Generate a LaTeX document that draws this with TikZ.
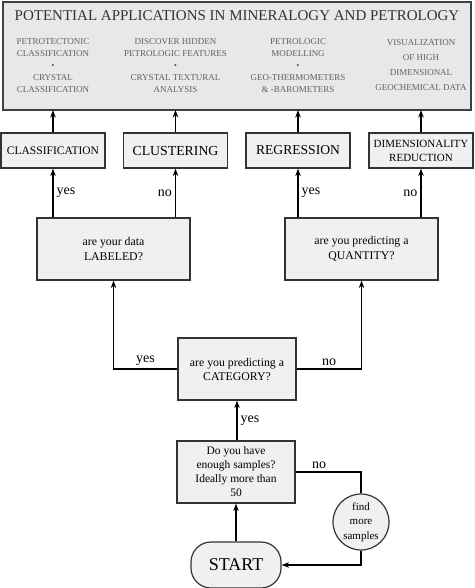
\documentclass[tikz,border=0pt]{standalone}
\usepackage{fontspec}
\setmainfont{Liberation Serif}
\usetikzlibrary{arrows.meta}
\tikzset{
  box/.style={draw=black!80,line width=1.2pt,fill=black!6,align=center,inner sep=1pt},
  app/.style={align=center,text=black!62,font=\fontsize{9}{12}\selectfont},
  lbl/.style={font=\fontsize{14}{14}\selectfont,inner sep=3pt}
}
\begin{document}
\begin{tikzpicture}[x=1pt,y=-1pt,line width=1.3pt,>={Stealth[length=7.5pt,width=5.5pt]}]
\useasboundingbox (0,0) rectangle (474,588);
\draw[line width=1.6pt,draw=black!75,fill=black!9] (3,2) rectangle (471,110);
\coordinate (appsbot) at (237,110);
\node[text=black!80,font=\fontsize{15}{16}\selectfont] (title) at (237,16) {POTENTIAL APPLICATIONS IN MINERALOGY AND PETROLOGY};
\node[app] (app1) at (53,66) {PETROTECTONIC\\CLASSIFICATION\\\textbullet\\CRYSTAL\\CLASSIFICATION};
\node[app] (app2) at (175.5,66) {DISCOVER HIDDEN\\PETROLOGIC FEATURES\\\textbullet\\CRYSTAL TEXTURAL\\ANALYSIS};
\node[app] (app3) at (298,66) {PETROLOGIC\\MODELLING\\\textbullet\\GEO-THERMOMETERS\\\& -BAROMETERS};
\node[app,font=\fontsize{9}{15}\selectfont] (app4) at (421,65) {VISUALIZATION\\OF HIGH\\DIMENSIONAL\\GEOCHEMICAL DATA};

\node[box,minimum width=104pt,minimum height=35pt,font=\fontsize{11.5}{14}\selectfont] (class) at (53,150.5) {CLASSIFICATION};
\node[box,minimum width=104pt,minimum height=35pt,font=\fontsize{13.8}{14}\selectfont] (clust) at (175.5,150.5) {CLUSTERING};
\node[box,minimum width=104pt,minimum height=35pt,font=\fontsize{13.6}{14}\selectfont] (regr) at (298,150.5) {REGRESSION};
\node[box,minimum width=104pt,minimum height=35pt,font=\fontsize{11}{14}\selectfont] (dimred) at (421,150.5) {DIMENSIONALITY\\REDUCTION};

\node[box,minimum width=153pt,minimum height=62pt,font=\fontsize{11.8}{15}\selectfont] (labeled) at (113.5,249) {are your data\\LABELED?};
\node[box,minimum width=153pt,minimum height=62pt,font=\fontsize{11.8}{15}\selectfont] (quantity) at (361.5,249) {are you predicting a\\QUANTITY?};
\node[box,minimum width=118pt,minimum height=62pt,font=\fontsize{11.8}{14}\selectfont] (category) at (237,369) {are you predicting a\\CATEGORY?};
\node[box,minimum width=118pt,minimum height=62pt,font=\fontsize{11.5}{14}\selectfont] (samples) at (236,472) {Do you have\\enough samples?\\Ideally more than\\50};
\node[box,circle,minimum size=56pt,font=\fontsize{11}{14.5}\selectfont] (more) at (361,522) {find\\more\\samples};
\node[box,rounded corners=20pt,minimum width=90pt,minimum height=46pt,font=\fontsize{18}{20}\selectfont] (start) at (236,565) {START};

\draw[->] (class.north) -- (class |- appsbot);
\draw[->] (clust.north) -- (clust |- appsbot);
\draw[->] (regr.north) -- (regr |- appsbot);
\draw[->] (dimred.north) -- (dimred |- appsbot);
\draw[->] (labeled.north -| class) -- node[lbl,right]{yes} (class.south);
\draw[->] (labeled.north -| clust) -- node[lbl,left]{no} (clust.south);
\draw[->] (quantity.north -| regr) -- node[lbl,right]{yes} (regr.south);
\draw[->] (quantity.north -| dimred) -- node[lbl,left]{no} (dimred.south);
\draw[->] (category.west) -| node[lbl,pos=0.25,above]{yes} (labeled.south);
\draw[->] (category.east) -| node[lbl,pos=0.25,above]{no} (quantity.south);
\draw[->] (samples.north -| category) -- node[lbl,right]{yes} (category.south);
\draw (samples.east) -| node[lbl,pos=0.18,above]{no} (more.north);
\draw[->] (more.south) |- (start.east);
\draw[->] (start.north) -- (samples.south);
\end{tikzpicture}
\end{document}
